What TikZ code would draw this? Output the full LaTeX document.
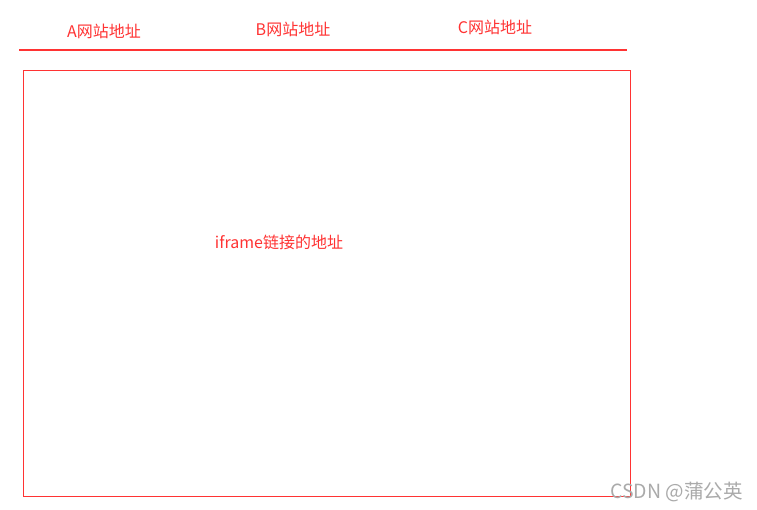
\documentclass[tikz,border=0pt]{standalone}
\usepackage{fontspec}
\setmainfont{Noto Sans CJK SC}
\newfontfamily\cjk{Noto Sans CJK SC}
\definecolor{myred}{RGB}{255,51,51}
\definecolor{wmgray}{RGB}{170,170,170}
\begin{document}
\begin{tikzpicture}[x=1pt,y=-1pt,
  lbl/.style={text=myred,font=\cjk\fontsize{16}{18}\selectfont,inner sep=0pt},
  wm/.style={text=wmgray,font=\cjk\fontsize{19.5}{22}\selectfont,inner sep=0pt}]
\useasboundingbox[fill=white] (0,0) rectangle (757,510);
\coordinate (l1) at (19,50.5);
\coordinate (l2) at (627,50.5);
\draw[myred,line width=2pt] (l1) -- (l2);
\node[lbl] (a) at (104,31) {A网站地址};
\node[lbl] (b) at (293,29) {B网站地址};
\node[lbl] (c) at (495,27) {C网站地址};
\node[draw=myred,line width=0.8pt,minimum width=607pt,minimum height=426pt,inner sep=0pt] (frame) at (326.5,283) {};
\node[lbl] (ifr) at (279,242) {iframe链接的地址};
\node[wm] (w) at (676.5,492) {CSDN @蒲公英};
\end{tikzpicture}
\end{document}
